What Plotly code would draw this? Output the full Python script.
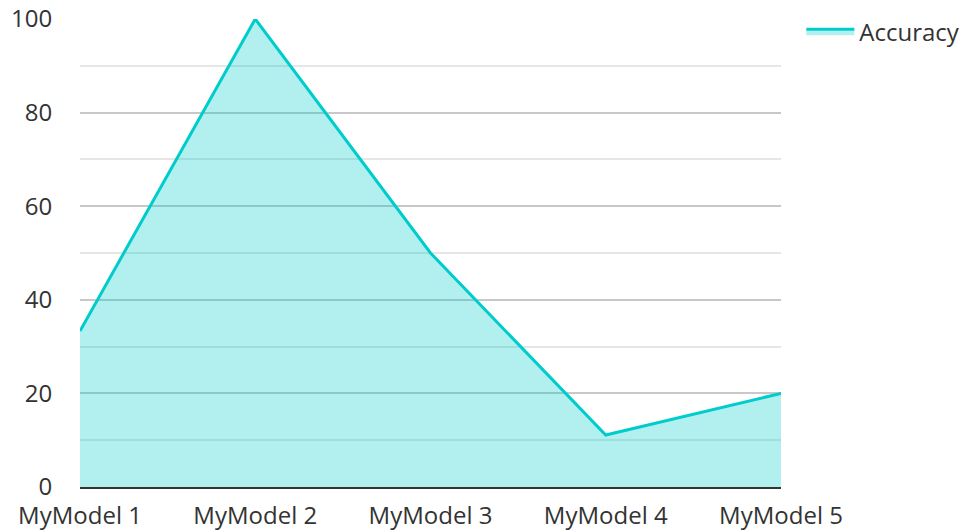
import plotly.graph_objects as go

categories = ["MyModel 1", "MyModel 2", "MyModel 3", "MyModel 4", "MyModel 5"]
accuracy = [33.33, 100, 50, 11.11, 20]
y_ticks = [0, 20, 40, 60, 80, 100]

fig = go.Figure()
fig.add_trace(go.Scatter(
    x=categories, y=accuracy, name="Accuracy", mode="lines",
    line=dict(color="#00cccc", width=3),
    fill="tozeroy", fillcolor="rgba(0,204,204,0.3)",
))

font = "Open Sans, Noto Sans, sans-serif"
fig.update_layout(
    width=963, height=523,
    margin=dict(l=72, r=190, t=11, b=44, autoexpand=False),
    paper_bgcolor="white", plot_bgcolor="white",
    font=dict(family=font, size=24, color="#333333"),
    showlegend=True,
    legend=dict(x=1.029, y=1.021, xanchor="left", yanchor="top",
                font=dict(size=24, color="#333333"), itemwidth=48),
    xaxis=dict(type="category", range=[0, 4], showgrid=False, automargin=False,
               showline=True, linecolor="#333333", linewidth=2,
               ticks="outside", ticklen=6, tickcolor="rgba(0,0,0,0)",
               tickfont=dict(size=24), zeroline=False),
    yaxis=dict(range=[0, 100], tickvals=y_ticks, showgrid=True, automargin=False,
               gridcolor="#c8c8c8", gridwidth=1.5, zeroline=False,
               showline=False, ticks="outside", ticklen=22,
               tickcolor="rgba(0,0,0,0)", tickfont=dict(size=24),
               ticklabeloverflow="allow",
               minor=dict(dtick=10, showgrid=True, gridcolor="#e6e6e6", gridwidth=1.5)),
)
fig.write_html("out.html")
